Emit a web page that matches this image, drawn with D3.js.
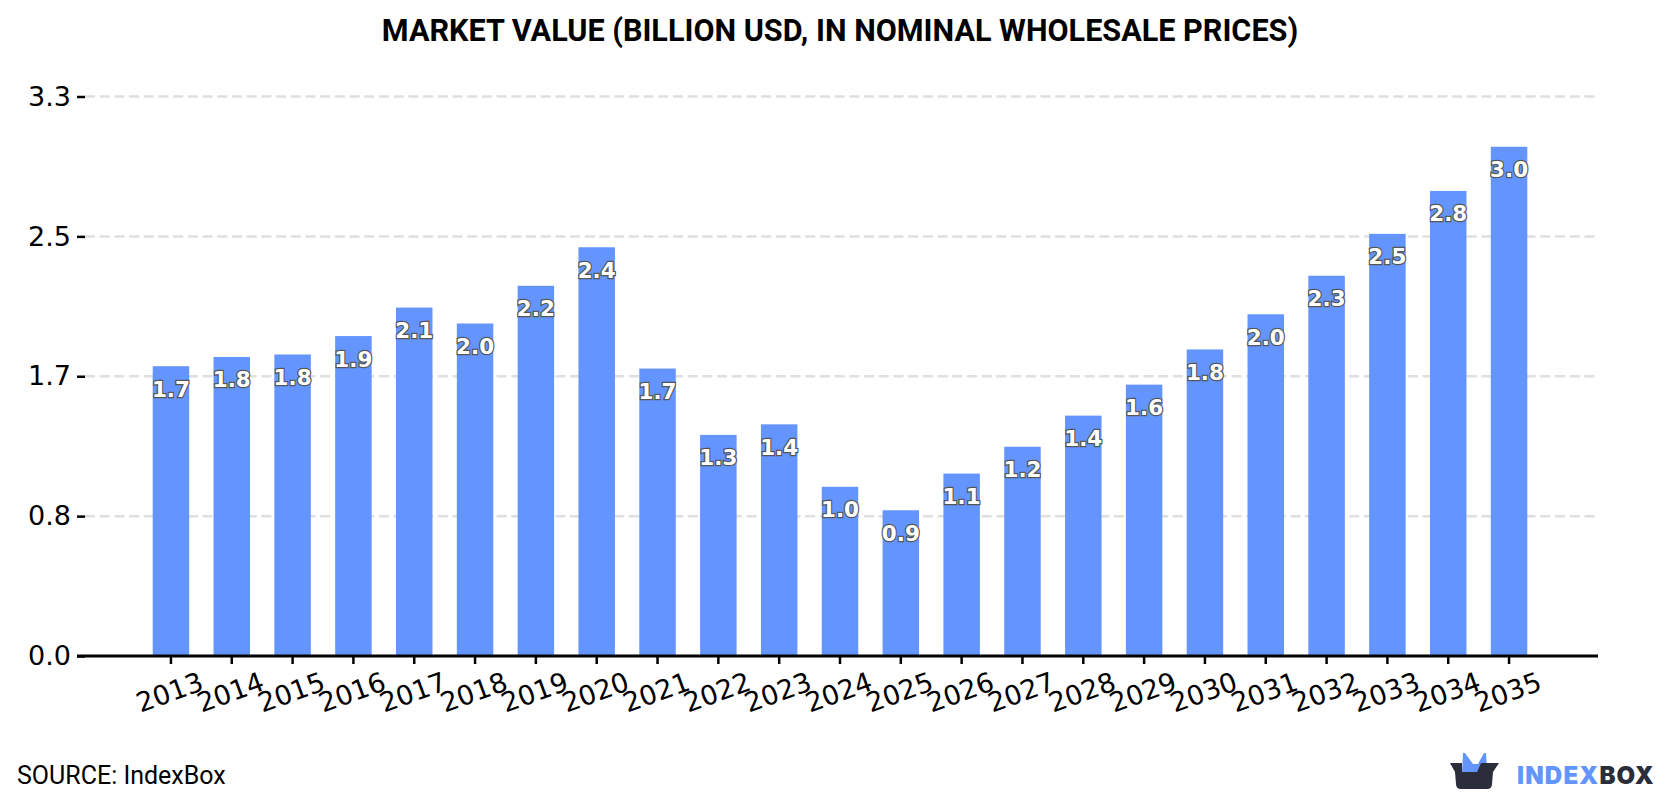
<!DOCTYPE html>
<html>
<head>
<meta charset="utf-8">
<title>Market value</title>
<script src="https://cdn.jsdelivr.net/npm/d3@7/dist/d3.min.js"></script>
<style>
  html, body { margin: 0; padding: 0; background: #fff; }
  svg { display: block; }
</style>
</head>
<body>
<svg id="chart" width="1680" height="800"></svg>
<script>
const years = [2013, 2014, 2015, 2016, 2017, 2018, 2019, 2020, 2021, 2022, 2023, 2024,
               2025, 2026, 2027, 2028, 2029, 2030, 2031, 2032, 2033, 2034, 2035];
const marketValue = [1.73, 1.785, 1.80, 1.91, 2.08, 1.985, 2.21, 2.44, 1.716, 1.32, 1.383, 1.01,
                     0.87, 1.089, 1.249, 1.435, 1.62, 1.83, 2.04, 2.27, 2.52, 2.776, 3.04];
const yTicks = [0, 0.835, 1.67, 2.505, 3.34];
const titleText = "MARKET VALUE (BILLION USD, IN NOMINAL WHOLESALE PRICES)";
const sourceText = "SOURCE: IndexBox";

const svg = d3.select("#chart");
const barColor = "#6495ff";
const plot = { left: 85, right: 1598, top: 96.5, bottom: 656 };

const x = d3.scaleBand().domain(years).range([152.7, 1527.3]).paddingInner(0.4).paddingOuter(0);
const y = d3.scaleLinear().domain([0, 3.34]).range([plot.bottom, plot.top]);

svg.append("text")
  .attr("x", 840).attr("y", 41)
  .attr("text-anchor", "middle")
  .attr("font-family", "Roboto").attr("font-weight", 700).attr("font-size", 30.6)
  .attr("fill", "#000")
  .text(titleText);

// Dashed horizontal grid
svg.append("g").selectAll("line")
  .data(yTicks.filter(d => d > 0))
  .join("line")
  .attr("x1", plot.left).attr("x2", plot.right)
  .attr("y1", d => y(d)).attr("y2", d => y(d))
  .attr("stroke", "#dfdfdf").attr("stroke-width", 2.5)
  .attr("stroke-dasharray", "10 4.7");

// Bars
svg.append("g").selectAll("rect")
  .data(years.map((year, i) => ({ year, value: marketValue[i] })))
  .join("rect")
  .attr("x", d => x(d.year))
  .attr("width", x.bandwidth())
  .attr("y", d => y(d.value))
  .attr("height", d => y(0) - y(d.value))
  .attr("fill", barColor);

// Value axis
const yAxis = svg.append("g")
  .attr("transform", `translate(${plot.left},0)`)
  .call(d3.axisLeft(y).tickValues(yTicks).tickFormat(d3.format(".1f")).tickSize(8).tickPadding(6));
yAxis.select(".domain").remove();
yAxis.selectAll("line").attr("stroke", "#000").attr("stroke-width", 2.5);
yAxis.selectAll("text")
  .attr("font-family", "DejaVu Sans").attr("font-size", 27).attr("fill", "#000");

// Year axis
const xAxis = svg.append("g")
  .attr("transform", `translate(0,${plot.bottom})`)
  .call(d3.axisBottom(x).tickSize(8).tickPadding(6));
xAxis.select(".domain").remove();
xAxis.selectAll("line").attr("stroke", "#000").attr("stroke-width", 2.5);
xAxis.selectAll("text")
  .attr("font-family", "DejaVu Sans").attr("font-size", 27).attr("fill", "#000")
  .attr("text-anchor", "middle")
  .attr("transform", "translate(-1,37) rotate(-20)")
  .attr("y", 0).attr("dy", "0.32em");

svg.append("line")
  .attr("x1", 77).attr("x2", plot.right)
  .attr("y1", plot.bottom).attr("y2", plot.bottom)
  .attr("stroke", "#000").attr("stroke-width", 3);

// Value labels inside the top of each bar
svg.append("g").selectAll("text")
  .data(years.map((year, i) => ({ year, value: marketValue[i] })))
  .join("text")
  .attr("x", d => x(d.year) + x.bandwidth() / 2)
  .attr("y", d => y(d.value) + 30.5)
  .attr("text-anchor", "middle")
  .attr("font-family", "DejaVu Sans").attr("font-weight", 700).attr("font-size", 21.5)
  .attr("fill", "#fff").attr("stroke", "#555").attr("stroke-width", 2.4)
  .attr("paint-order", "stroke")
  .text(d => d3.format(".1f")(d.value));

svg.append("text")
  .attr("x", 17).attr("y", 784)
  .attr("font-family", "Roboto").attr("font-size", 25).attr("fill", "#000")
  .text(sourceText);

// Brand mark and wordmark
const logo = svg.append("g");
logo.append("path")
  .attr("d", "M1462 773 L1463 753 L1465 753 L1473 764 L1478 764 L1484 753 L1486 753 L1487 768 L1480 773 Z")
  .attr("fill", barColor);
logo.append("path")
  .attr("d", "M1450 763 L1462 763 L1462 772 L1477 772 L1481 763 L1499 763 L1493 772 L1492 784 Q1492 789 1487 789 L1461 789 Q1456 789 1456 784 L1455 772 Z")
  .attr("fill", "#2b2d3a");
const word = logo.append("text")
  .attr("x", 1517).attr("y", 784)
  .attr("font-family", "Inter").attr("font-weight", 900).attr("font-size", 24)
  .attr("letter-spacing", 1.2);
word.append("tspan").attr("fill", barColor).text("INDEX");
word.append("tspan").attr("fill", "#2b2d3a").text("BOX");
</script>
</body>
</html>
